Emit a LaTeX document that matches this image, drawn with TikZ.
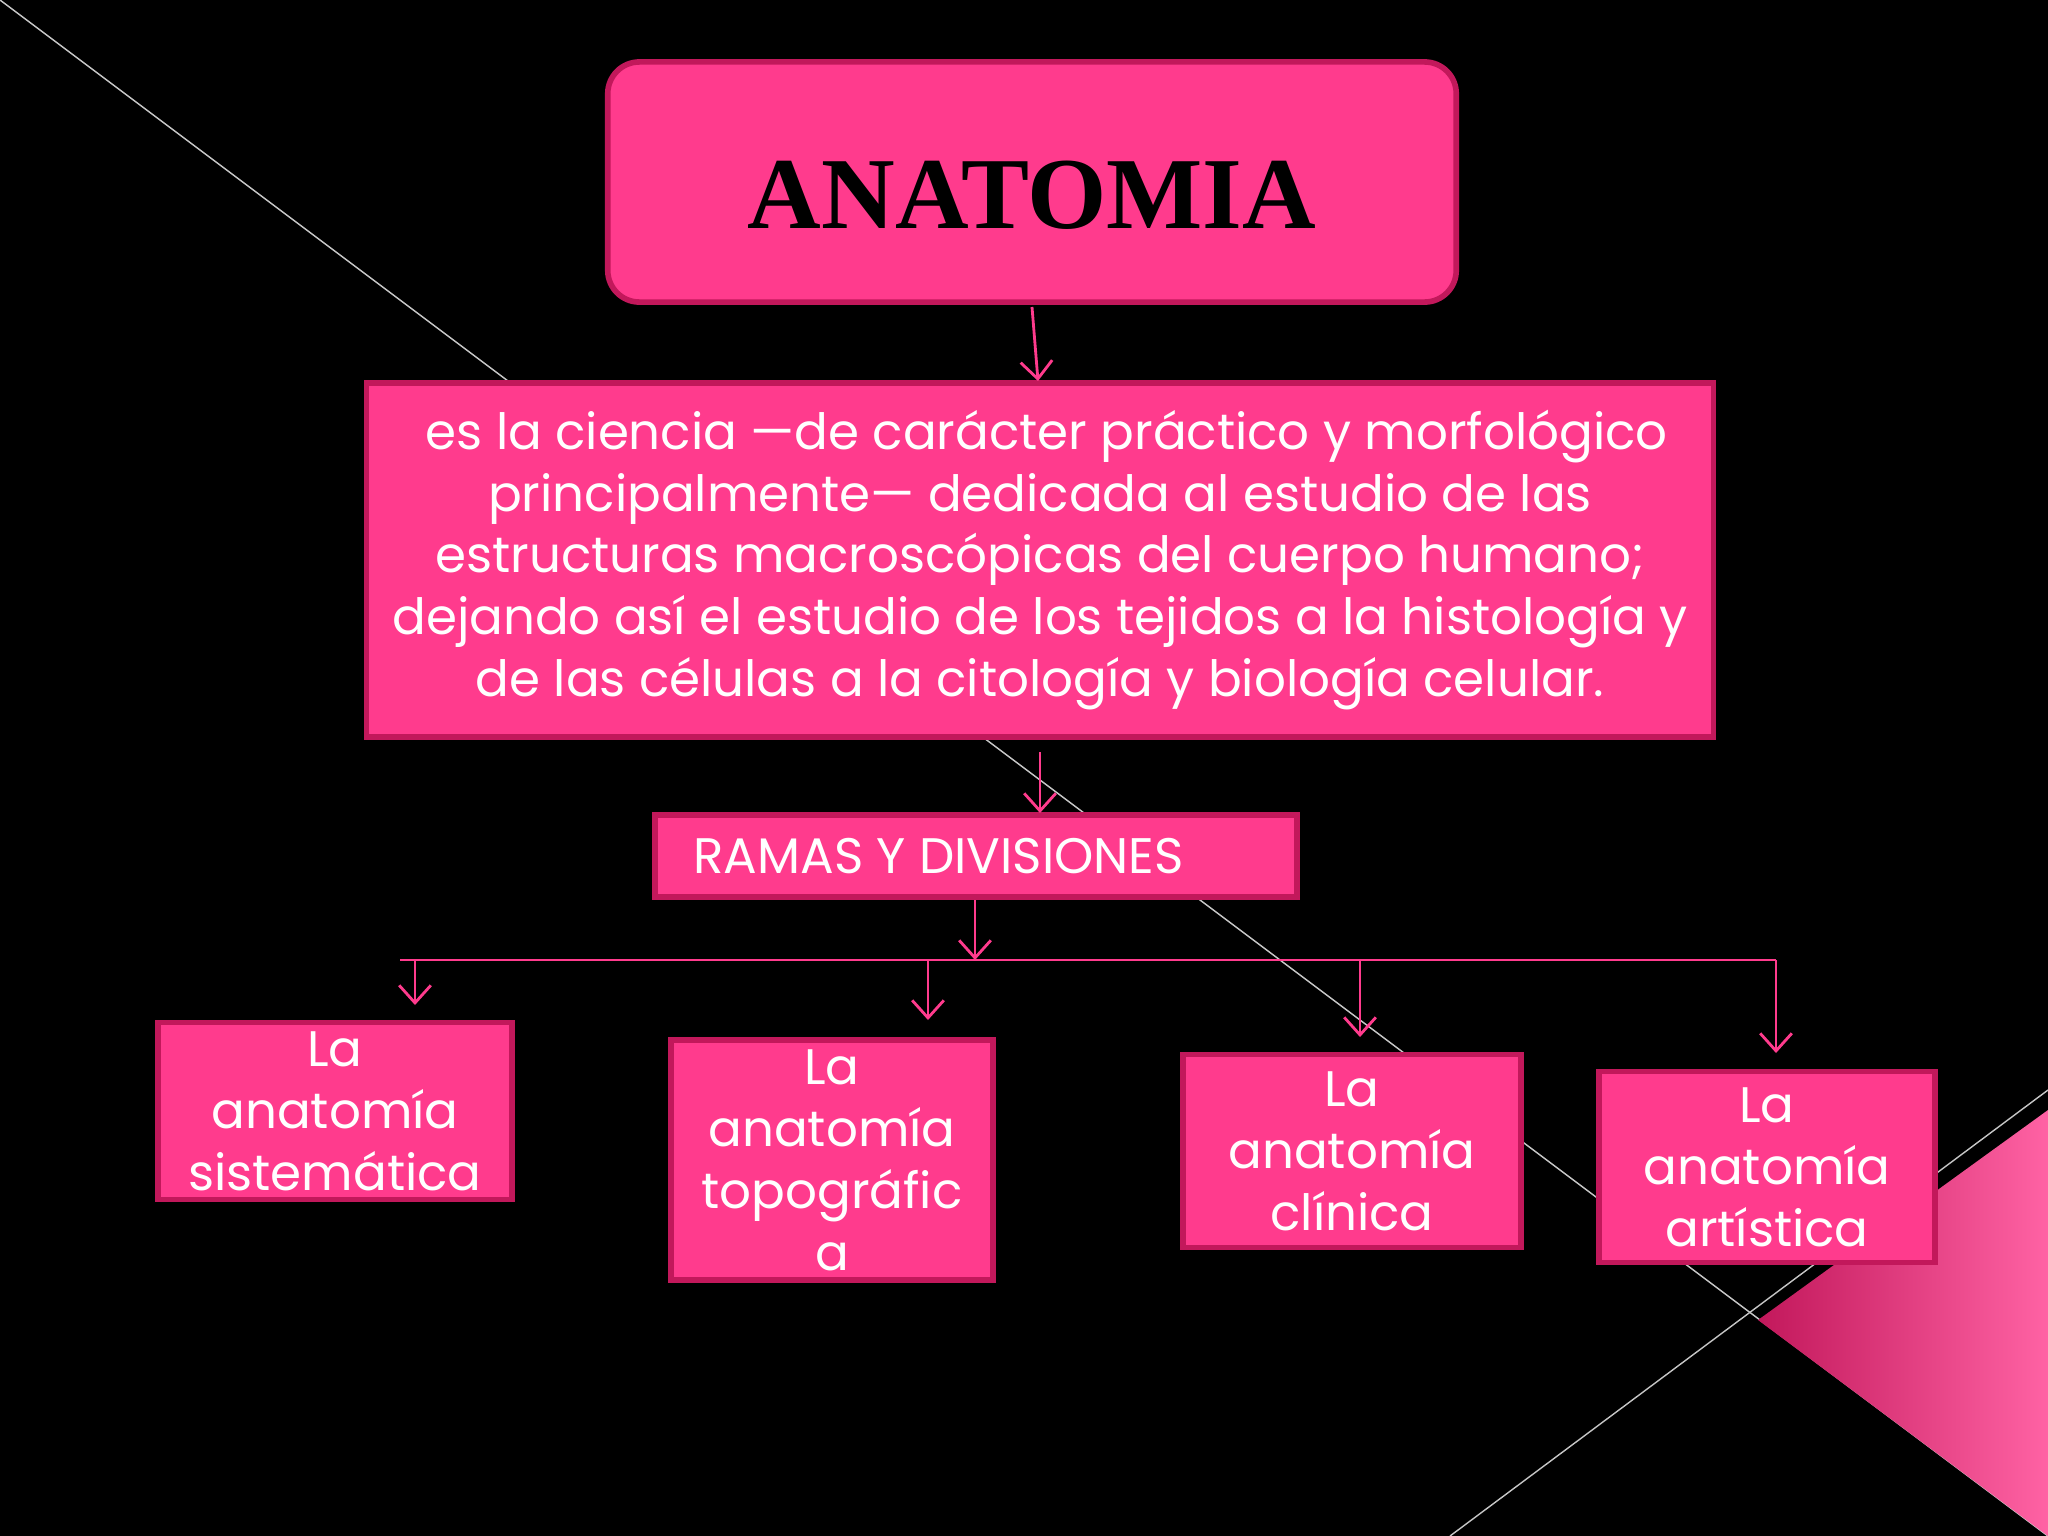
\documentclass[tikz,border=0pt]{standalone}
\usepackage{fontspec}
\setmainfont{Poppins}
\newfontfamily\titlefont{Liberation Serif}
\usetikzlibrary{arrows.meta,shadings}
\definecolor{pk}{HTML}{FF3B8D}
\definecolor{pkb}{HTML}{C2185B}
\tikzset{
 box/.style={draw=pkb,line width=1.6pt,fill=pk,text=white,align=center,font=\fontsize{14.2}{17.6}\selectfont,inner sep=0pt},
 conn/.style={draw=pk,line width=0.8pt},
 arr/.style={conn,-{Straight Barb[length=5pt,width=9pt]}}
}
\begin{document}
\begin{tikzpicture}[x=0.01cm,y=-0.01cm]
\fill[black] (0,0) rectangle (2048,1536);
\useasboundingbox (0,0) rectangle (2048,1536);
\draw[gray!45,line width=0.4pt] (0,0) -- (2048,1536);
\draw[gray!45,line width=0.4pt] (1450,1536) -- (2048,1090);
\shade[left color=pkb,right color=pk!80] (2048,1110) -- (1758,1320) -- (2048,1536) -- cycle;
\node[box,rounded corners=9pt,minimum width=8.48cm,minimum height=2.40cm] (t) at (1032,182) {};
\node[font=\titlefont\fontsize{29}{30}\selectfont\bfseries,text=black] (tt) at (1032,195) {ANATOMIA};
\node[box,minimum width=13.46cm,minimum height=3.54cm] (d) at (1040,560) {\ es la ciencia —de carácter práctico y morfológico\\principalmente— dedicada al estudio de las\\estructuras macroscópicas del cuerpo humano;\\dejando así el estudio de los tejidos a la histología y\\de las células a la citología y biología celular.};
\node[box,minimum width=6.42cm,minimum height=0.82cm] (r) at (976,856) {RAMAS Y DIVISIONES\hspace{1.5em}};
\node[box,minimum width=3.54cm,minimum height=1.77cm] (b1) at (335,1111) {La\\anatomía\\sistemática};
\node[box,minimum width=3.22cm,minimum height=2.40cm] (b2) at (832,1160) {La\\anatomía\\topográfic\\a};
\node[box,minimum width=3.38cm,minimum height=1.93cm] (b3) at (1352,1151) {La\\anatomía\\clínica};
\node[box,minimum width=3.36cm,minimum height=1.91cm] (b4) at (1767,1167) {La\\anatomía\\artística};
\coordinate (a0) at (1032,307);
\coordinate (a1) at (1038,381);
\draw[arr] (a0) -- (a1);
\coordinate (c0) at (1040,752);
\draw[arr] (c0) -- (1040,813);
\coordinate (h) at (975,960);
\draw[arr] (r.south -| h) -- (h);
\draw[conn] (400,960) -- (1776,960);
\draw[arr] (415,960) -- (415,1005);
\draw[arr] (928,960) -- (928,1020);
\draw[arr] (1360,960) -- (1360,1037);
\draw[arr] (1776,960) -- (1776,1053);
\end{tikzpicture}
\end{document}
